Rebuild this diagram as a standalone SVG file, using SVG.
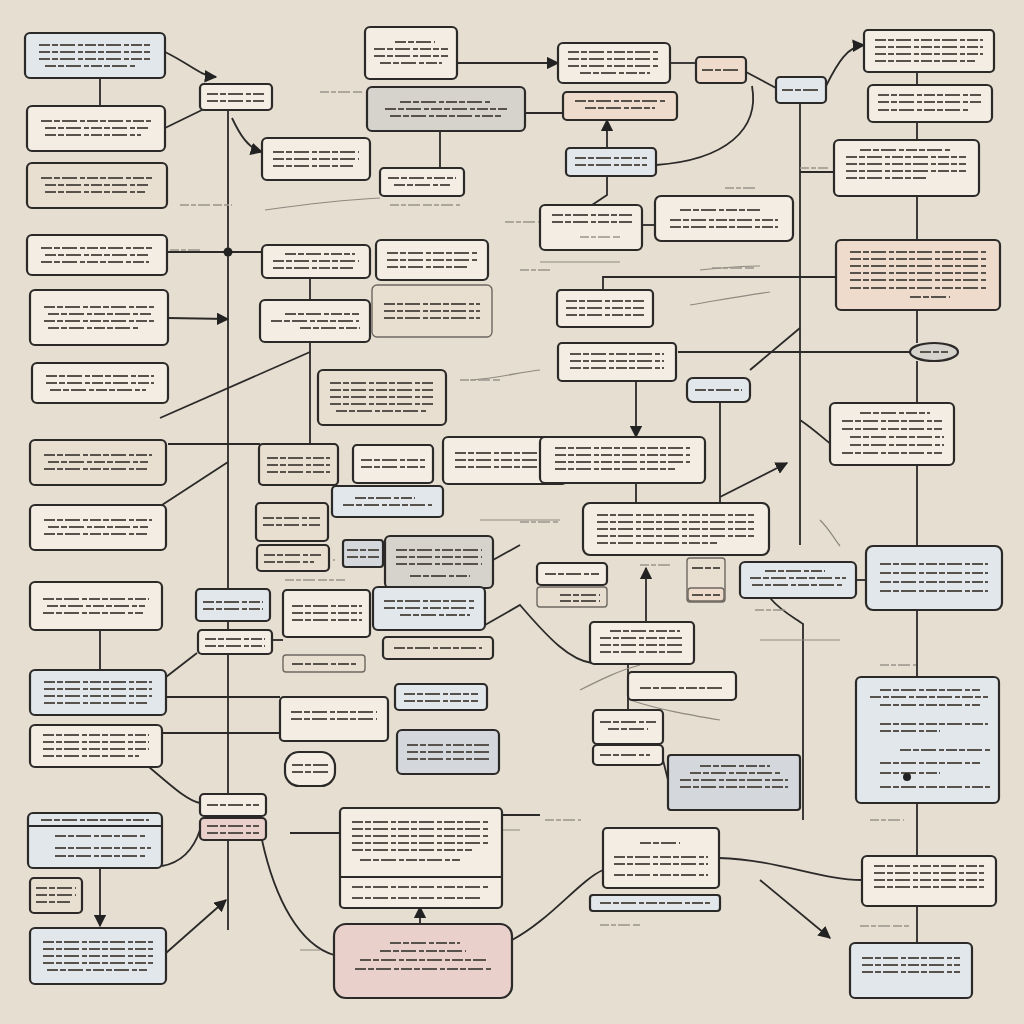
<svg xmlns="http://www.w3.org/2000/svg" width="1024" height="1024" viewBox="0 0 1024 1024">
<style>
.bg{fill:#e6ded1}
.b{stroke:#2b2a29;stroke-width:2.2;stroke-linejoin:round}
.fb{stroke:#6d6861;stroke-width:1.4}
.cr{fill:#f3ede3}.tn{fill:#e9dfd0}.bl{fill:#e2e7eb}.gy{fill:#d6d3cd}.gb{fill:#d4d8dd}.pc{fill:#eedbcb}.pk{fill:#e9d0ca}
.t{fill:none;stroke:#57524b;stroke-width:2.2;stroke-dasharray:11 2 6 2 15 3 5 2}
.tf{fill:none;stroke:#9a948b;stroke-width:1.6;stroke-dasharray:9 2 5 2 12 3}
.c{fill:none;stroke:#2b2a29;stroke-width:1.8}
.cf{fill:none;stroke:#8e887f;stroke-width:1.2}
</style>
<defs>
<marker id="ah" viewBox="0 0 10 10" refX="9" refY="5" markerWidth="7" markerHeight="7" orient="auto-start-reverse"><path d="M0,0L10,5L0,10z" fill="#222"/></marker>
</defs>
<rect class="bg" width="1024" height="1024"/>

<g id="connectors">
<path class="c" d="M100,78V106"/>
<path class="c" d="M165,52C190,64 200,76 216,77" marker-end="url(#ah)"/>
<path class="c" d="M165,128L204,109"/>
<path class="c" d="M228,110V794"/>
<path class="c" d="M228,840V930"/>
<path class="c" d="M167,252H262"/>
<circle cx="228" cy="252" r="4.5" fill="#222"/>
<path class="c" d="M168,318L228,319" marker-end="url(#ah)"/>
<path class="c" d="M160,418L310,352"/>
<path class="c" d="M168,444H260"/>
<path class="c" d="M162,505L228,462"/>
<path class="c" d="M310,278V300"/>
<path class="c" d="M310,342V444"/>
<path class="c" d="M232,118C240,135 248,148 262,152" marker-end="url(#ah)"/>
<path class="c" d="M440,131V168"/>
<path class="c" d="M457,63H558" marker-end="url(#ah)"/>
<path class="c" d="M525,113H563"/>
<path class="c" d="M607,148V120" marker-end="url(#ah)"/>
<path class="c" d="M607,176V195L592,205"/>
<path class="c" d="M642,225H655"/>
<path class="c" d="M670,63H696"/>
<path class="c" d="M746,72L776,88"/>
<path class="c" d="M826,86C838,62 848,46 864,45" marker-end="url(#ah)"/>
<path class="c" d="M656,165C725,160 760,130 752,86"/>
<path class="c" d="M917,72V85M917,122V140M917,196V240M917,310V343M917,361V403M917,465V546M917,610V677M917,803V856M917,906V943"/>
<path class="c" d="M800,95V545"/>
<path class="c" d="M800,172H834"/>
<path class="c" d="M603,290V277H836"/>
<path class="c" d="M678,352H910"/>
<path class="c" d="M720,402V503"/>
<path class="c" d="M636,382V437" marker-end="url(#ah)"/>
<path class="c" d="M636,483V503"/>
<path class="c" d="M750,370L800,328"/>
<path class="c" d="M720,497L787,463" marker-end="url(#ah)"/>
<path class="c" d="M856,580H866"/>
<path class="c" d="M646,622V568" marker-end="url(#ah)"/>
<path class="c" d="M628,665V712"/>
<path class="c" d="M770,598C782,612 795,618 803,624V820"/>
<path class="c" d="M485,625L520,605C550,640 570,660 592,663"/>
<path class="c" d="M420,907V924" marker-start="url(#ah)"/>
<path class="c" d="M512,940C550,920 580,880 603,870"/>
<path class="c" d="M262,840C275,900 300,945 334,955"/>
<path class="c" d="M290,833H340"/>
<path class="c" d="M502,815H540"/>
<path class="c" d="M166,953L226,900" marker-end="url(#ah)"/>
<path class="c" d="M162,866C185,862 195,845 200,830"/>
<path class="c" d="M143,762C165,780 185,800 200,803"/>
<path class="c" d="M166,677L197,653"/>
<path class="c" d="M165,697H280"/>
<path class="c" d="M163,733H285"/>
<path class="c" d="M100,868V926" marker-end="url(#ah)"/>
<path class="c" d="M100,630V670"/>
<path class="c" d="M719,858C780,860 820,880 862,880"/>
<path class="c" d="M760,880L830,938" marker-end="url(#ah)"/>
<path class="c" d="M800,420C815,430 825,440 832,445"/>
<path class="c" d="M270,640H283"/>
<path class="c" d="M493,560L520,545"/>
<path class="c" d="M663,760L668,780"/>
<path class="cf" d="M265,210C300,205 340,200 380,198M540,262H620M470,380C500,378 520,372 540,370M480,520H560M700,270C720,268 740,266 760,266M630,700C660,710 690,715 720,720M580,690C600,680 620,670 640,665M820,520C830,530 835,540 840,546M450,830H520M760,640H840M690,305C720,300 740,296 770,292M300,950H320"/>
</g>

<g id="labels">
<path class="tf" d="M170,250h32M180,205h52M320,92h42M390,205h70M545,232h40M520,522h38M712,268h42M800,168h28M725,188h30M505,222h34M880,665h36M870,820h34M860,926h50M285,580h60M300,560h35M640,565h30M460,380h40M545,820h36M755,610h30M600,925h40M520,270h30"/>
</g>

<g id="n1"><rect class="b bl" x="25" y="33" width="140" height="45" rx="5"/><path class="t" d="M39 45h112M39 52h112M39 59h112M45 66h90"/></g>
<g id="n2"><rect class="b cr" x="27" y="106" width="138" height="45" rx="5"/><path class="t" d="M41 121h110M45 128h104M45 135h96"/></g>
<g id="n3"><rect class="b tn" x="27" y="163" width="140" height="45" rx="5"/><path class="t" d="M41 178h112M45 185h104M45 192h100"/></g>
<g id="n4"><rect class="b cr" x="27" y="235" width="140" height="40" rx="5"/><path class="t" d="M41 248h112M45 255h104M41 262h108"/></g>
<g id="n5"><rect class="b cr" x="30" y="290" width="138" height="55" rx="5"/><path class="t" d="M44 307h110M48 314h104M44 321h110M48 328h90"/></g>
<g id="n6"><rect class="b cr" x="32" y="363" width="136" height="40" rx="5"/><path class="t" d="M46 376h108M46 383h108M50 390h96"/></g>
<g id="n7"><rect class="b tn" x="30" y="440" width="136" height="45" rx="5"/><path class="t" d="M44 455h108M48 462h100M44 469h104"/></g>
<g id="n8"><rect class="b cr" x="30" y="505" width="136" height="45" rx="5"/><path class="t" d="M44 520h108M48 527h100M44 534h104"/></g>
<g id="n9"><rect class="b cr" x="30" y="582" width="132" height="48" rx="5"/><path class="t" d="M43 599h106M47 606h98M43 613h100"/></g>
<g id="n10"><rect class="b bl" x="30" y="670" width="136" height="45" rx="5"/><path class="t" d="M44 682h108M44 689h108M44 696h108M44 703h104"/></g>
<g id="n11"><rect class="b cr" x="30" y="725" width="132" height="42" rx="5"/><path class="t" d="M43 735h106M43 742h106M43 749h106M43 756h96"/></g>
<g id="n12"><rect class="b bl" x="28" y="813" width="134" height="55" rx="5"/><path class="c" d="M29 826H161"/><path class="t" d="M41 820h108M55 836h90M55 848h96M55 856h90"/></g>
<g id="n13"><rect class="b tn" x="30" y="878" width="52" height="35" rx="4"/><path class="t" d="M36 888h40M36 895h40M36 902h34"/></g>
<g id="n14"><rect class="b bl" x="30" y="928" width="136" height="56" rx="5"/><path class="t" d="M43 942h110M43 949h110M43 956h110M43 963h110M47 970h100"/></g>

<g id="n15"><rect class="b cr" x="200" y="84" width="72" height="26" rx="4"/><path class="t" d="M207 94h58M207 101h58"/></g>
<g id="n16"><rect class="b cr" x="262" y="138" width="108" height="42" rx="5"/><path class="t" d="M273 152h86M273 159h86M273 166h80"/></g>
<g id="n17"><rect class="b cr" x="262" y="245" width="108" height="33" rx="5"/><path class="t" d="M285 254h70M273 261h86M273 268h80"/></g>
<g id="n18"><rect class="b cr" x="260" y="300" width="110" height="42" rx="5"/><path class="t" d="M285 314h74M271 321h88M300 328h60"/></g>
<g id="n19"><rect class="b tn" x="259" y="444" width="79" height="41" rx="4"/><path class="t" d="M267 458h63M267 465h63M267 472h63"/></g>
<g id="n35"><rect class="b cr" x="353" y="445" width="80" height="38" rx="4"/><path class="t" d="M361 460h64M361 467h64"/></g>
<g id="n36"><rect class="b cr" x="443" y="437" width="124" height="47" rx="5"/><path class="t" d="M455 453h100M455 460h100M455 467h90"/></g>
<g id="n37"><rect class="b bl" x="332" y="486" width="111" height="31" rx="4"/><path class="t" d="M355 498h60M343 505h89"/></g>
<g id="n38"><rect class="b tn" x="256" y="503" width="72" height="38" rx="4"/><path class="t" d="M263 518h58M263 525h58"/></g>
<g id="n39"><rect class="b tn" x="257" y="545" width="72" height="26" rx="4"/><path class="t" d="M264 555h58M264 562h50"/></g>
<g id="n40"><rect class="b gb" x="343" y="540" width="40" height="27" rx="3"/><path class="t" d="M347 550h32M347 557h32"/></g>
<g id="n41"><rect class="b gy" x="385" y="536" width="108" height="52" rx="5"/><path class="t" d="M396 550h86M396 557h86M396 564h86M410 576h60"/></g>
<g id="n22"><rect class="b bl" x="196" y="589" width="74" height="32" rx="4"/><path class="t" d="M203 602h60M203 609h60"/></g>
<g id="n23"><rect class="b cr" x="198" y="630" width="74" height="24" rx="4"/><path class="t" d="M205 639h60M205 646h60"/></g>
<g id="n24"><rect class="b cr" x="283" y="590" width="87" height="47" rx="4"/><path class="t" d="M292 606h70M292 613h70M292 620h70"/></g>
<g id="n43"><rect class="b bl" x="373" y="587" width="112" height="43" rx="5"/><path class="t" d="M384 601h90M384 608h90M400 615h70"/></g>
<g id="n44"><rect class="b tn" x="383" y="637" width="110" height="22" rx="4"/><path class="t" d="M394 648h88"/></g>
<g id="n45"><rect class="fb tn" x="283" y="655" width="82" height="17" rx="3"/><path class="t" d="M292 664h64"/></g>
<g id="n46"><rect class="b bl" x="395" y="684" width="92" height="26" rx="4"/><path class="t" d="M404 694h74M404 701h74"/></g>
<g id="n47"><rect class="b gb" x="397" y="730" width="102" height="44" rx="5"/><path class="t" d="M407 745h82M407 752h82M407 759h82"/></g>
<g id="n27"><rect class="b cr" x="280" y="697" width="108" height="44" rx="4"/><path class="t" d="M291 712h86M291 719h86"/></g>
<g id="n28"><rect class="b cr" x="285" y="752" width="50" height="34" rx="14"/><path class="t" d="M292 765h36M292 772h36"/></g>
<g id="n25"><rect class="b cr" x="200" y="794" width="66" height="22" rx="4"/><path class="t" d="M207 805h52"/></g>
<g id="n26"><rect class="b pk" x="200" y="818" width="66" height="22" rx="4"/><path class="t" d="M207 826h52M207 833h52"/></g>
<g id="n29"><rect class="b cr" x="365" y="27" width="92" height="52" rx="5"/><path class="t" d="M395 42h40M374 49h74M374 56h74M380 63h62"/></g>
<g id="n30"><rect class="b gy" x="367" y="87" width="158" height="44" rx="5"/><path class="t" d="M400 102h92M385 109h122M390 116h112"/></g>
<g id="n31"><rect class="b cr" x="380" y="168" width="84" height="28" rx="4"/><path class="t" d="M388 178h68M394 185h56"/></g>
<g id="n32"><rect class="b cr" x="376" y="240" width="112" height="40" rx="5"/><path class="t" d="M387 253h90M387 260h90M387 267h80"/></g>
<g id="n33"><rect class="fb tn" x="372" y="285" width="120" height="52" rx="5"/><path class="t" d="M384 304h96M384 311h96M384 318h96"/></g>
<g id="n34"><rect class="b tn" x="318" y="370" width="128" height="55" rx="5"/><path class="t" d="M330 383h104M330 390h104M330 397h104M330 404h104M336 411h90"/></g>
<g id="n49"><rect class="b cr" x="340" y="808" width="162" height="100" rx="4"/><path class="c" d="M341 877H501"/><path class="t" d="M352 822h138M352 829h138M352 836h138M352 843h138M352 850h120M360 860h100M352 887h138M352 898h130"/></g>
<g id="n50"><rect class="b pk" x="334" y="924" width="178" height="74" rx="12"/><path class="t" d="M390 943h70M380 951h86M360 960h126M355 969h136"/></g>

<g id="n51"><rect class="b cr" x="558" y="43" width="112" height="40" rx="5"/><path class="t" d="M568 52h92M568 59h92M568 66h92M580 73h70"/></g>
<g id="n52"><rect class="b pc" x="563" y="92" width="114" height="28" rx="4"/><path class="t" d="M575 101h90M585 108h70"/></g>
<g id="n53"><rect class="b bl" x="566" y="148" width="90" height="28" rx="4"/><path class="t" d="M575 158h72M575 165h72"/></g>
<g id="n54"><rect class="b cr" x="540" y="205" width="102" height="45" rx="5"/><path class="t" d="M552 215h80M552 222h80"/><path class="tf" d="M580 237h40"/></g>
<g id="n55"><rect class="b cr" x="655" y="196" width="138" height="45" rx="6"/><path class="t" d="M680 210h80M670 220h108M670 227h108"/></g>
<g id="n56"><rect class="b cr" x="557" y="290" width="96" height="37" rx="4"/><path class="t" d="M566 301h78M566 308h78M566 315h78"/></g>
<g id="n57"><rect class="b cr" x="558" y="343" width="118" height="38" rx="4"/><path class="t" d="M570 354h94M570 361h94M570 368h94"/></g>
<g id="n58"><rect class="b bl" x="687" y="378" width="63" height="24" rx="6"/><path class="t" d="M695 390h47"/></g>
<g id="n59"><rect class="b cr" x="540" y="437" width="165" height="46" rx="5"/><path class="t" d="M555 448h135M555 455h135M555 462h135M555 469h120"/></g>
<g id="n60"><rect class="b cr" x="583" y="503" width="186" height="52" rx="7"/><path class="t" d="M597 515h158M597 522h158M597 529h158M597 536h158M597 543h120"/></g>
<g id="n61"><rect class="b cr" x="537" y="563" width="70" height="22" rx="4"/><path class="t" d="M545 574h54"/><rect class="fb tn" x="537" y="587" width="70" height="20" rx="3"/><path class="t" d="M560 595h40M560 601h40"/></g>
<g id="n62"><rect class="fb tn" x="687" y="558" width="38" height="44" rx="3"/><rect class="fb pc" x="688" y="588" width="36" height="13" rx="3"/><path class="t" d="M692 568h28M692 595h28"/></g>
<g id="n63"><rect class="b bl" x="740" y="562" width="116" height="36" rx="5"/><path class="t" d="M765 571h60M750 578h96M752 585h92"/></g>
<g id="n64"><rect class="b cr" x="590" y="622" width="104" height="42" rx="4"/><path class="t" d="M610 631h70M600 638h84M600 645h84M600 652h84"/></g>
<g id="n65"><rect class="b cr" x="628" y="672" width="108" height="28" rx="4"/><path class="t" d="M640 688h84"/></g>
<g id="n66"><rect class="b cr" x="593" y="710" width="70" height="34" rx="4"/><path class="t" d="M600 722h56M608 729h40"/><rect class="b cr" x="593" y="745" width="70" height="20" rx="4"/><path class="t" d="M600 755h50"/></g>
<g id="n67"><rect class="b gb" x="668" y="755" width="132" height="55" rx="3"/><path class="t" d="M700 766h70M690 773h90M680 780h108M680 787h108"/></g>
<g id="n68"><rect class="b cr" x="603" y="828" width="116" height="60" rx="4"/><path class="t" d="M640 843h40M614 857h94M614 864h94M614 875h94"/></g>
<g id="n69"><rect class="b bl" x="590" y="895" width="130" height="16" rx="3"/><path class="t" d="M600 903h110"/></g>
<g id="n70"><rect class="b pc" x="696" y="57" width="50" height="26" rx="4"/><path class="t" d="M702 70h38"/></g>
<g id="n71"><rect class="b bl" x="776" y="77" width="50" height="26" rx="4"/><path class="t" d="M782 90h38"/></g>
<g id="n72"><rect class="b cr" x="864" y="30" width="130" height="42" rx="4"/><path class="t" d="M875 40h108M875 47h108M875 54h108M875 61h100"/></g>
<g id="n73"><rect class="b cr" x="868" y="85" width="124" height="37" rx="5"/><path class="t" d="M878 95h104M878 102h104M878 110h90"/></g>
<g id="n74"><rect class="b cr" x="834" y="140" width="145" height="56" rx="5"/><path class="t" d="M860 150h90M846 157h120M846 164h120M846 171h120M846 178h80"/></g>
<g id="n75"><rect class="b pc" x="836" y="240" width="164" height="70" rx="5"/><path class="t" d="M850 252h136M850 259h136M850 266h136M850 273h136M850 280h136M850 288h136M910 297h40"/></g>
<g id="n76"><ellipse class="b gy" cx="934" cy="352" rx="24" ry="9"/><path class="t" d="M920 352h28"/></g>
<g id="n77"><rect class="b cr" x="830" y="403" width="124" height="62" rx="5"/><path class="t" d="M860 413h70M842 421h100M842 429h100M850 437h94M850 445h94M842 453h100"/></g>
<g id="n78"><rect class="b bl" x="866" y="546" width="136" height="64" rx="7"/><path class="t" d="M880 564h108M880 573h108M880 582h108M880 591h108"/></g>
<g id="n79"><rect class="b bl" x="856" y="677" width="143" height="126" rx="5"/><path class="t" d="M880 690h100M870 697h118M880 705h100M880 724h108M880 731h60M900 750h90M880 763h100M880 773h60M880 787h110"/><circle cx="907" cy="777" r="4" fill="#222"/></g>
<g id="n80"><rect class="b cr" x="862" y="856" width="134" height="50" rx="5"/><path class="t" d="M874 866h110M874 873h110M874 880h110M874 887h110"/></g>
<g id="n81"><rect class="b bl" x="850" y="943" width="122" height="55" rx="5"/><path class="t" d="M862 958h98M862 965h98M862 972h98"/></g>
</svg>
